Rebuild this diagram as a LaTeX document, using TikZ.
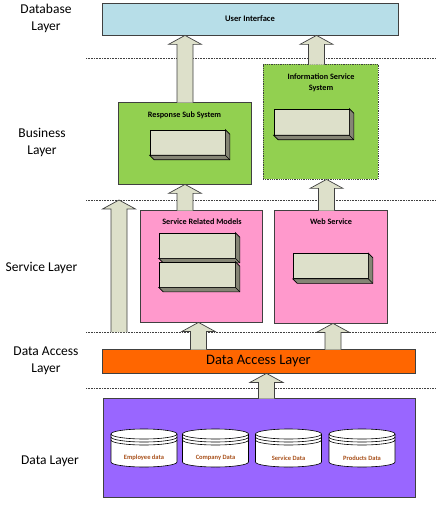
\documentclass[tikz,border=0pt]{standalone}
\usepackage{fontspec}
\setmainfont{Carlito}
\usetikzlibrary{calc}
\definecolor{uiblue}{HTML}{B7DEE8}
\definecolor{bgreen}{HTML}{92D050}
\definecolor{spink}{HTML}{FF99CC}
\definecolor{dorange}{HTML}{FF6600}
\definecolor{dpurple}{HTML}{9966FF}
\definecolor{slabface}{HTML}{DDE0CA}
\definecolor{slabside}{HTML}{858575}
\definecolor{arrowfill}{HTML}{DDE0CA}
\definecolor{edgegray}{HTML}{404040}
\definecolor{cyltext}{HTML}{A8501A}
\newcommand{\blockarrow}[2]{%
  \fill[arrowfill] let \p1=(#1), \p2=(#2) in
    (\x1-8pt,\y1) -- (\x1-8pt,\y2-9pt) -- (\x1-16.5pt,\y2-9pt) -- (\x1,\y2)
    -- (\x1+16.5pt,\y2-9pt) -- (\x1+8pt,\y2-9pt) -- (\x1+8pt,\y1) -- cycle;
  \draw[arrowline] let \p1=(#1), \p2=(#2) in
    (\x1-8pt,\y1) -- (\x1-8pt,\y2-9pt) -- (\x1-16.5pt,\y2-9pt) -- (\x1,\y2)
    -- (\x1+16.5pt,\y2-9pt) -- (\x1+8pt,\y2-9pt) -- (\x1+8pt,\y1);
}
\newcommand{\slabdepth}[1]{%
  \filldraw[fill=slabside, draw=black, line width=0.6pt]
    (#1.north east) -- ++(4.5,4.5) -- ($(#1.south east)+(4.5,4.5)$)
    -- ($(#1.south west)+(4.5,4.5)$) -- (#1.south west) -- (#1.south east) -- cycle;
  \draw[line width=0.6pt] (#1.south east) -- ++(4.5,4.5);
}
\newcommand{\cylinder}[3]{% name, center x, label
  \fill[white] (#2-33,434) -- (#2-33,462) arc[start angle=180, end angle=0, x radius=33, y radius=5]
    -- (#2+33,434) arc[start angle=0, end angle=-180, x radius=33, y radius=5] -- cycle;
  \draw[line width=0.6pt] (#2-33,434) -- (#2-33,462) arc[start angle=180, end angle=0, x radius=33, y radius=5] -- (#2+33,434);
  \draw[line width=0.6pt] (#2,434) ellipse[x radius=33, y radius=5];
  \draw[line width=0.6pt] (#2-33,437) arc[start angle=180, end angle=0, x radius=33, y radius=5];
  \draw[line width=0.6pt] (#2-33,440) arc[start angle=180, end angle=0, x radius=33, y radius=5];
  \node[cyllabel] (#1) at (#2,458) {#3};
}
\begin{document}
\begin{tikzpicture}[x=1pt, y=-1pt,
  box/.style={draw=edgegray, line width=0.8pt, inner sep=0pt},
  title/.style={font=\fontsize{8.2}{11}\selectfont\bfseries, align=center, inner sep=0pt},
  layerlabel/.style={font=\fontsize{13.5}{17}\selectfont, align=center, inner sep=0pt},
  slab/.style={draw=black, fill=slabface, line width=0.6pt, inner sep=0pt},
  cyllabel/.style={font=\fontsize{6.5}{7}\selectfont\bfseries, text=cyltext, inner sep=0pt},
  arrowline/.style={draw=edgegray, line width=0.7pt, line join=miter},
  sep/.style={densely dotted, draw=edgegray, line width=0.6pt}]
\useasboundingbox (0,0) rectangle (436,510);

% layer labels
\node[layerlabel] (lDB) at (46,18.5) {Database\\Layer};
\node[layerlabel] (lBL) at (42,142.5) {Business\\Layer};
\node[layerlabel] (lSL) at (41.5,268) {Service Layer};
\node[layerlabel] (lDA) at (46,361) {Data Access\\Layer};
\node[layerlabel] (lDL) at (50,461) {Data Layer};

% separators
\coordinate (s1a) at (86,58);  \coordinate (s1b) at (436,58);
\coordinate (s2a) at (86,200); \coordinate (s2b) at (436,200);
\coordinate (s3a) at (86,332); \coordinate (s3b) at (436,332);
\coordinate (s4a) at (86,388); \coordinate (s4b) at (436,388);
\draw[sep] (s1a) -- (s1b);
\draw[sep] (s2a) -- (s2b);
\draw[sep] (s3a) -- (s3b);
\draw[sep] (s4a) -- (s4b);

% boxes
\node[box, fill=uiblue, minimum width=296pt, minimum height=32pt, font=\fontsize{8.5}{10}\selectfont\bfseries] (ui) at (250,19) {User Interface};
\node[box, fill=bgreen, minimum width=133pt, minimum height=82pt] (resp) at (184.5,143) {};
\node[title] (respT) at (184.5,115) {Response Sub System};
\node[box, fill=bgreen, densely dotted, minimum width=115pt, minimum height=115pt] (info) at (320.5,121.5) {};
\node[title] (infoT) at (321,82.5) {Information Service\\System};
\node[box, fill=spink, minimum width=122pt, minimum height=112pt] (srm) at (201,266) {};
\node[title] (srmT) at (202,222) {Service Related Models};
\node[box, fill=spink, minimum width=113pt, minimum height=113pt] (ws) at (330.5,266.5) {};
\node[title] (wsT) at (331,222) {Web Service};
\node[box, fill=dorange, minimum width=313pt, minimum height=24pt, font=\fontsize{14.5}{16}\selectfont] (dal) at (258.5,361) {Data Access Layer};
\node[box, fill=dpurple, minimum width=312pt, minimum height=99pt] (data) at (259,447.5) {};

% slabs
\node[slab, minimum width=75pt, minimum height=25pt] (respS) at (187.5,142.5) {};
\slabdepth{respS}
\node[slab, minimum width=75pt, minimum height=26pt] (infoS) at (311.5,122) {};
\slabdepth{infoS}
\node[slab, minimum width=76pt, minimum height=25pt] (srmS1) at (197,245.5) {};
\slabdepth{srmS1}
\node[slab, minimum width=76pt, minimum height=25pt] (srmS2) at (197,274.5) {};
\slabdepth{srmS2}
\node[slab, minimum width=75pt, minimum height=25pt] (wsS) at (330.5,266) {};
\slabdepth{wsS}

% cylinders
\cylinder{cEmp}{144}{Employee data}
\cylinder{cComp}{215.5}{Company Data}
\cylinder{cServ}{288.5}{Service Data}
\cylinder{cProd}{362}{Products Data}

% arrows
\coordinate (a1b) at ($(resp.north)+(0.5,1)$);
\blockarrow{a1b}{a1b |- ui.south}
\coordinate (a2b) at ($(info.north)+(-4,1)$);
\blockarrow{a2b}{a2b |- ui.south}
\coordinate (a3b) at ($(srm.north -| resp.south)+(0.5,1)$);
\blockarrow{a3b}{a3b |- resp.south}
\coordinate (a4b) at ($(ws.north)+(-4,1)$);
\blockarrow{a4b}{a4b |- info.south}
\coordinate (a5b) at ($(s3a)+(33,0)$);
\blockarrow{a5b}{a5b |- s2a}
\coordinate (a6b) at ($(dal.north -| srm.south)+(-2.5,1)$);
\blockarrow{a6b}{a6b |- srm.south}
\coordinate (a7b) at ($(dal.north -| ws.south)+(2.5,1)$);
\blockarrow{a7b}{a7b |- ws.south}
\coordinate (a8b) at ($(data.north)+(7.5,1)$);
\blockarrow{a8b}{a8b |- dal.south}
\end{tikzpicture}
\end{document}
